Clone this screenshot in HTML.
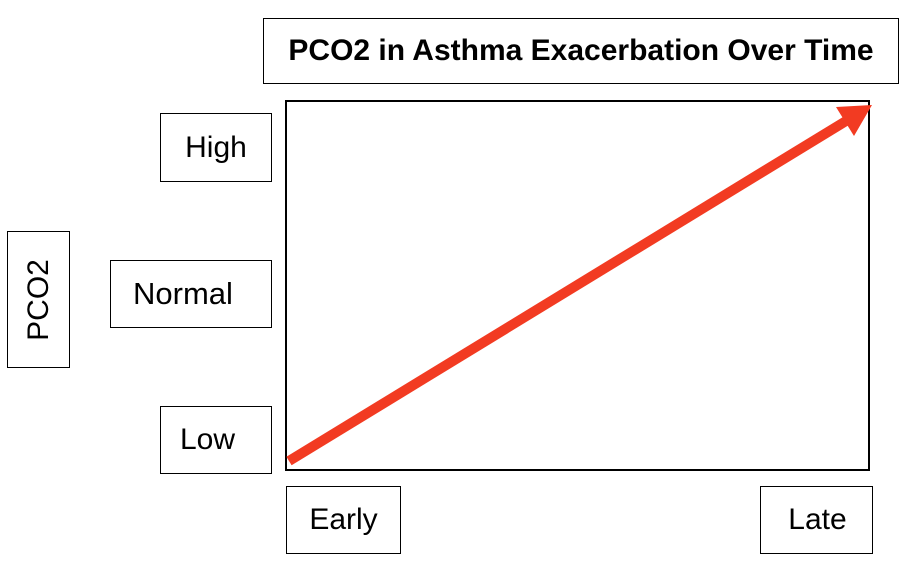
<!DOCTYPE html>
<html><head><style>
body{margin:0;width:906px;height:564px;background:#fff;position:relative;overflow:hidden;font-family:"Liberation Sans",sans-serif}
.b{position:absolute;border:1px solid #000;box-sizing:border-box;display:flex;align-items:center;justify-content:center;font-size:30px;color:#000}
</style></head><body>
<div class="b" style="left:263px;top:18px;width:636px;height:66px;font-weight:bold;font-size:30px">PCO2 in Asthma Exacerbation Over Time</div>
<div class="b" style="left:160px;top:113px;width:112px;height:69px">High</div>
<div class="b" style="left:110px;top:260px;width:162px;height:68px;justify-content:flex-start;padding-left:22px;font-size:31px">Normal</div>
<div class="b" style="left:160px;top:406px;width:112px;height:68px;justify-content:flex-start;padding-left:19px">Low</div>
<div class="b" style="left:7px;top:231px;width:63px;height:137px"><span style="transform:rotate(-90deg);display:block;white-space:nowrap">PCO2</span></div>
<div class="b" style="left:286px;top:486px;width:115px;height:68px">Early</div>
<div class="b" style="left:760px;top:486px;width:113px;height:68px;padding-left:2px">Late</div>
<div style="position:absolute;left:285px;top:100px;width:585px;height:371px;border:2px solid #000;box-sizing:border-box"></div>
<svg width="906" height="564" style="position:absolute;left:0;top:0">
<line x1="289" y1="461" x2="846" y2="121" stroke="#F23B22" stroke-width="10"/>
<polygon points="872,105 836,107 854,136" fill="#F23B22"/>
</svg>
</body></html>
